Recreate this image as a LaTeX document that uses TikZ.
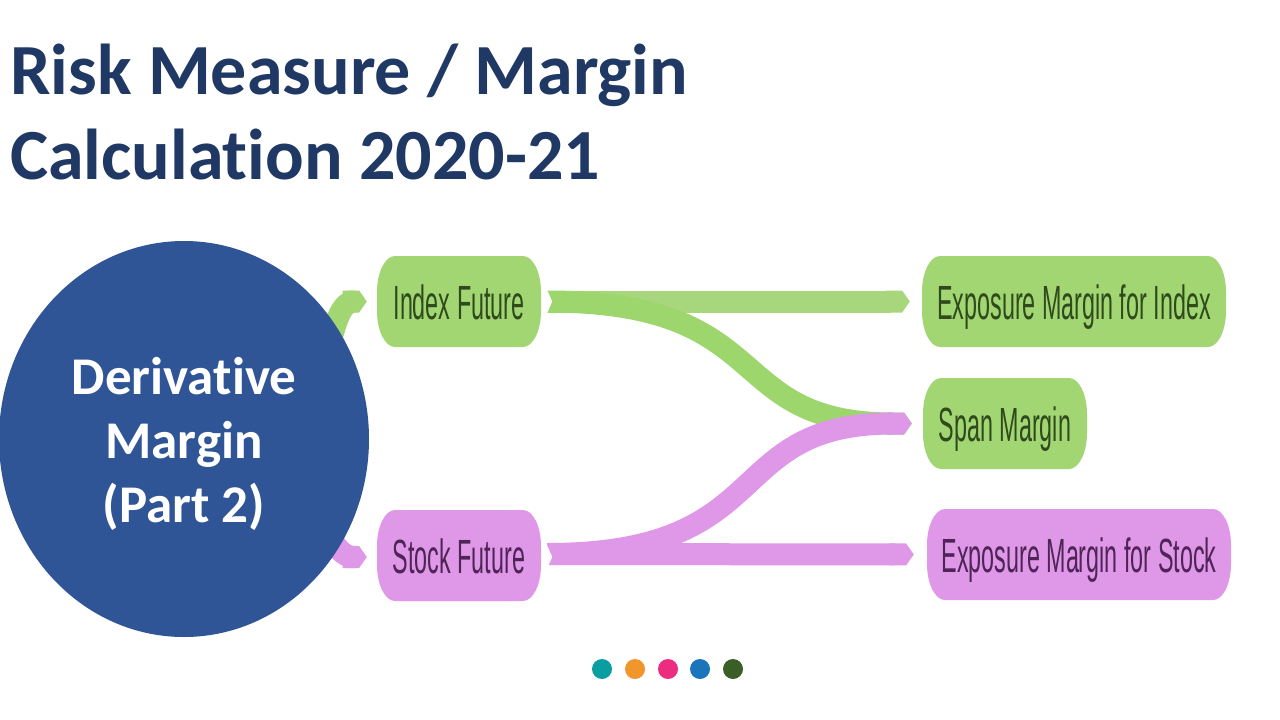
\documentclass[tikz,border=0pt]{standalone}
\usepackage{fontspec}
\setmainfont[Ligatures=CommonOff]{Carlito}
\newfontfamily\boxfont{Liberation Sans}
\usetikzlibrary{arrows.meta,shapes.geometric,backgrounds}
\definecolor{titleblue}{HTML}{1F3864}
\definecolor{discblue}{HTML}{2F5597}
\definecolor{leafgreen}{HTML}{A2D672}
\definecolor{stemgreen}{HTML}{A8D67C}
\definecolor{bendgreen}{HTML}{9CD66C}
\definecolor{leafpurple}{HTML}{DF97E8}
\definecolor{textgreen}{HTML}{2F4A1C}
\definecolor{textpurple}{HTML}{4F2456}
\definecolor{dotteal}{HTML}{0A9EA0}
\definecolor{dotorange}{HTML}{F0962A}
\definecolor{dotpink}{HTML}{EC2C7F}
\definecolor{dotblue}{HTML}{1B75BB}
\definecolor{dotgreen}{HTML}{3A5E25}
\tikzset{
  x=1pt,y=-1pt,
  titletext/.style={anchor=north west,align=left,inner sep=0pt,text=titleblue,font=\fontsize{72}{85}\selectfont\bfseries},
  disc/.style={ellipse,fill=discblue,minimum width=370pt,minimum height=396pt,inner sep=0pt},
  disctext/.style={align=center,inner sep=0pt,text=white,font=\fontsize{53}{64}\selectfont\bfseries},
  pilltext/.style={inner sep=0pt,text height=35pt,text depth=0pt,font=\boxfont\fontsize{48}{48}\selectfont},
  greentext/.style={pilltext,text=textgreen},
  purpletext/.style={pilltext,text=textpurple},
  ribbon/.style={line width=22pt,-{Triangle Cap[cap angle=110]}},
  dot/.style={circle,minimum size=20pt,inner sep=0pt},
}
% #1 colour, #2 left, #3 top, #4 width, #5 height
\newcommand{\pillshape}[5]{%
  \fill[#1] (#2+18,#3) -- ++(#4-36,0)
    arc[start angle=-90,end angle=0,x radius=18,y radius=36] -- ++(0,#5-72)
    arc[start angle=0,end angle=90,x radius=18,y radius=36] -- ++(-#4+36,0)
    arc[start angle=90,end angle=180,x radius=18,y radius=36] -- ++(0,-#5+72)
    arc[start angle=180,end angle=270,x radius=18,y radius=36] -- cycle;}
\newcommand{\ribbonnotch}[2]{%
  \fill[white] ([shift={(6,#2-11.5)}]#1) -- ++(5,11.5) -- ++(-5,11.5) -- cycle;}
\newcommand{\squeezed}[1]{\scalebox{0.486}[1]{#1}}
\begin{document}
\begin{tikzpicture}
\useasboundingbox (0,0) rectangle (1280,720);

\node[titletext] (title) at (10,44) {Risk Measure / Margin\\Calculation 2020-21};

\pillshape{leafgreen}{377}{256}{164}{91}
\node[greentext,minimum width=164pt,minimum height=91pt] (idx) at (459,301.5) {\squeezed{Index Future}};
\pillshape{leafpurple}{377}{510}{164}{91}
\node[purpletext,minimum width=164pt,minimum height=91pt] (stk) at (459,555.5) {\squeezed{Stock Future}};
\pillshape{leafgreen}{922}{256}{304}{91}
\node[greentext,minimum width=304pt,minimum height=91pt] (expi) at (1074,301.5) {\squeezed{Exposure Margin for Index}};
\pillshape{leafgreen}{923}{378}{164}{91}
\node[greentext,minimum width=164pt,minimum height=91pt] (span) at (1005,423.5) {\squeezed{Span Margin}};
\pillshape{leafpurple}{927}{509}{304}{91}
\node[purpletext,minimum width=304pt,minimum height=91pt] (exps) at (1079,554.5) {\squeezed{Exposure Margin for Stock}};

\node[disc] (hub) at (184,439) {};
\node[disctext] (hubtext) at (184,444) {Derivative\\Margin\\(Part 2)};

\begin{scope}[on background layer]
\fill[white] (0,0) rectangle (1280,720);
\draw[ribbon,stemgreen,shorten <=6pt,shorten >=12pt] (idx.east) -- (expi.west);
\draw[ribbon,bendgreen,shorten <=6pt,shorten >=11pt] (idx.east) .. controls +(239,0) and +(-203,0) .. (span.west);
\draw[ribbon,leafpurple,shorten <=6pt,shorten >=13pt] ([yshift=1.5pt]stk.east) -- (exps.west);
\draw[ribbon,leafpurple,shorten <=6pt,shorten >=11pt] ([yshift=1.5pt]stk.east) .. controls +(239,0) and +(-203,0) .. (span.west);
\draw[ribbon,leafgreen] ([shift={(-10,25)}]hub.36) .. controls +(8,-25) and +(-16,0) .. ([xshift=-22pt]idx.west) -- ([xshift=-10pt]idx.west);
\draw[ribbon,leafpurple] ([shift={(-16,-12)}]hub.-34) .. controls +(12,12) and +(-14,0) .. ([shift={(-22,1.5)}]stk.west) -- ([shift={(-10,1.5)}]stk.west);
\ribbonnotch{idx.east}{0}
\ribbonnotch{stk.east}{1.5}
\end{scope}

\node[dot,fill=dotteal] (d1) at (602,669) {};
\node[dot,fill=dotorange] (d2) at (635,669) {};
\node[dot,fill=dotpink] (d3) at (668,669) {};
\node[dot,fill=dotblue] (d4) at (700,669) {};
\node[dot,fill=dotgreen] (d5) at (733,669) {};
\end{tikzpicture}
\end{document}
